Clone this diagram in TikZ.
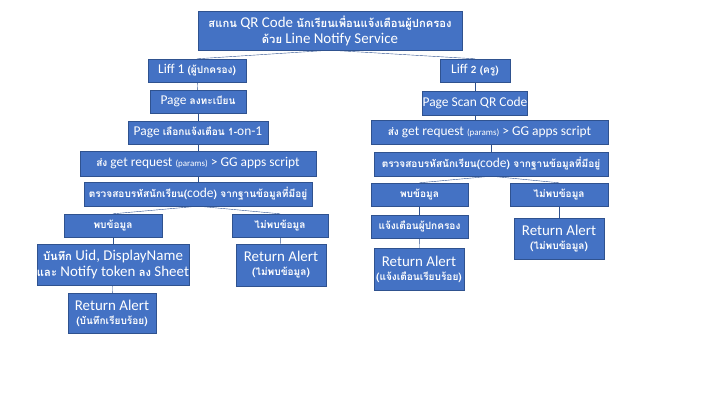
\documentclass[tikz,border=0pt]{standalone}
\usepackage{fontspec}
\setmainfont{Carlito}
\newfontfamily\thaifont[Script=Thai,Scale=0.75]{Loma}
\newcommand{\tx}[1]{{\thaifont\bfseries #1}}
\definecolor{boxblue}{HTML}{4472C4}
\definecolor{boxline}{HTML}{2F528F}
\begin{document}
\begin{tikzpicture}[
  x = 1bp, y = -1bp,
  box/.style = {
    shape = rectangle,
    draw = boxline,
    fill = boxblue,
    text = white,
    align = center,
    inner sep = 0pt,
    font = \fontsize{13.5}{14}\selectfont,
  },
  big/.style = {font = \fontsize{15}{16}\selectfont},
  link/.style = {draw = boxline, thin}
]
  \useasboundingbox (0, 0) rectangle (720, 405);

  \node[box, big, minimum width = 264bp, minimum height = 39bp] (top) at (330, 30.5)
    {\tx{สแกน} QR Code \tx{นักเรียนเพื่อนแจ้งเตือนผู้ปกครอง}\\ \tx{ด้วย} Line Notify Service};

  % left branch
  \node[box, minimum width = 98bp, minimum height = 23bp] (liff1) at (197, 70.5)
    {Liff 1 \tx{(ผู้ปกครอง)}};
  \node[box, minimum width = 96bp, minimum height = 23bp] (reg) at (198, 101.5)
    {Page \tx{ลงทะเบียน}};
  \node[box, minimum width = 140bp, minimum height = 23bp] (choose) at (198, 132.5)
    {Page \tx{เลือกแจ้งเตือน 1-}on-1};
  \node[box, minimum width = 236bp, minimum height = 25bp] (reqL) at (198, 163.5)
    {\tx{ส่ง} get request {\small(params)} > GG apps script};
  \node[box, minimum width = 228bp, minimum height = 24bp] (chkL) at (198, 194)
    {\tx{ตรวจสอบรหัสนักเรียน(}code\tx{) จากฐานข้อมูลที่มีอยู่}};
  \node[box, minimum width = 98bp, minimum height = 23bp] (foundL) at (113, 225.5)
    {\tx{พบข้อมูล}};
  \node[box, minimum width = 96bp, minimum height = 23bp] (nfL) at (280, 225.5)
    {\tx{ไม่พบข้อมูล}};
  \node[box, big, minimum width = 146bp, minimum height = 41bp] (save) at (113, 264.5)
    {\tx{บันทึก} Uid, DisplayName\\ \tx{และ} Notify token \tx{ลง} Sheet};
  \node[box, minimum width = 88bp, minimum height = 40bp] (retL1) at (112, 313)
    {{\fontsize{15}{15}\selectfont Return Alert}\\ \tx{(บันทึกเรียบร้อย)}};
  \node[box, minimum width = 90bp, minimum height = 42bp] (retL2) at (281, 265)
    {{\fontsize{15}{15}\selectfont Return Alert}\\ \tx{(ไม่พบข้อมูล)}};

  % right branch
  \node[box, minimum width = 70bp, minimum height = 23bp] (liff2) at (475, 70.5)
    {Liff \tx{2 (ครู)}};
  \node[box, minimum width = 102bp, minimum height = 24bp] (scan) at (475, 103)
    {Page Scan QR Code};
  \node[box, minimum width = 237bp, minimum height = 24bp] (reqR) at (489.5, 132)
    {\tx{ส่ง} get request {\small(params)} > GG apps script};
  \node[box, minimum width = 234bp, minimum height = 24bp] (chkR) at (491, 164)
    {\tx{ตรวจสอบรหัสนักเรียน(}code\tx{) จากฐานข้อมูลที่มีอยู่}};
  \node[box, minimum width = 97bp, minimum height = 23bp] (foundR) at (419.5, 194.5)
    {\tx{พบข้อมูล}};
  \node[box, minimum width = 98bp, minimum height = 23bp] (nfR) at (559, 194.5)
    {\tx{ไม่พบข้อมูล}};
  \node[box, minimum width = 97bp, minimum height = 23bp] (notify) at (419.5, 226.5)
    {\tx{แจ้งเตือนผู้ปกครอง}};
  \node[box, minimum width = 90bp, minimum height = 42bp] (retR1) at (419, 269)
    {{\fontsize{15}{15}\selectfont Return Alert}\\ \tx{(แจ้งเตือนเรียบร้อย)}};
  \node[box, minimum width = 90bp, minimum height = 41bp] (retR2) at (559, 238.5)
    {{\fontsize{15}{15}\selectfont Return Alert}\\ \tx{(ไม่พบข้อมูล)}};

  \draw[link] (top.south) -- (liff1.north);
  \draw[link] (top.south) -- (liff2.north);
  \draw[link] (liff1) -- (reg);
  \draw[link] (reg) -- (choose);
  \draw[link] (choose) -- (reqL);
  \draw[link] (reqL) -- (chkL);
  \draw[link] (chkL.south) -- (foundL.north);
  \draw[link] (chkL.south) -- (nfL.north);
  \draw[link] (foundL) -- (save);
  \draw[link] (save) -- (retL1);
  \draw[link] (nfL) -- (retL2);
  \draw[link] (liff2) -- (scan);
  \draw[link] (scan.south) -- (scan.south |- reqR.north);
  \draw[link] (reqR.south -| chkR.north) -- (chkR.north);
  \draw[link] (chkR.south) -- (foundR.north);
  \draw[link] (chkR.south) -- (nfR.north);
  \draw[link] (foundR) -- (notify);
  \draw[link] (notify) -- (retR1);
  \draw[link] (nfR) -- (retR2);
\end{tikzpicture}
\end{document}
